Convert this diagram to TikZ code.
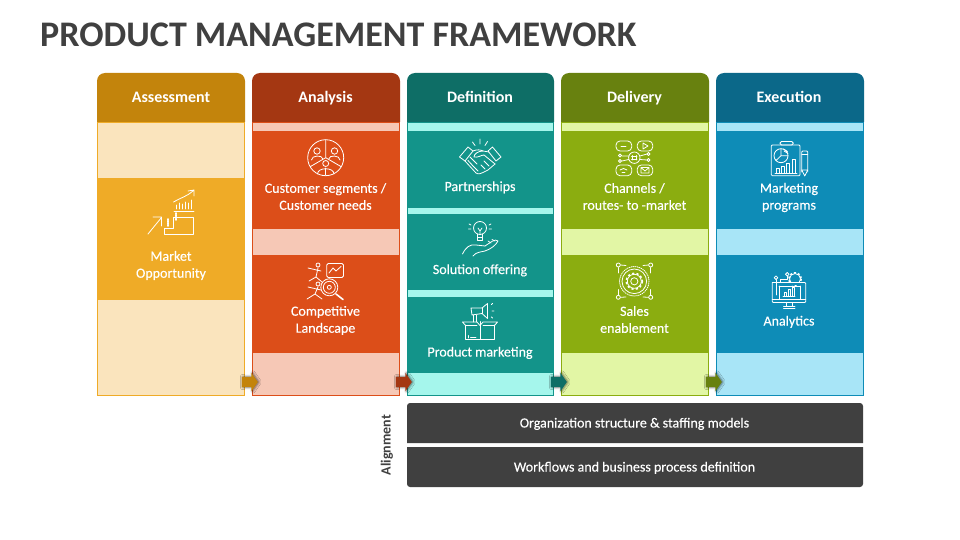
\documentclass[tikz,border=0pt]{standalone}
\usepackage{fontspec}
\usepackage{xcolor}
\usetikzlibrary{shapes.arrows,shadows.blur}
\setmainfont{Carlito}
\newfontfamily\labelfont[FakeBold=0.25]{Carlito}
\definecolor{assesshead}{HTML}{C3840C}
\definecolor{assessdark}{HTML}{EFAB27}
\definecolor{assesslight}{HTML}{FAE4BD}
\definecolor{analyhead}{HTML}{A43712}
\definecolor{analydark}{HTML}{DC4E19}
\definecolor{analylight}{HTML}{F6C8B6}
\definecolor{definhead}{HTML}{0E6E66}
\definecolor{defindark}{HTML}{13948A}
\definecolor{definlight}{HTML}{A5F6EC}
\definecolor{delivhead}{HTML}{68810F}
\definecolor{delivdark}{HTML}{8BAD10}
\definecolor{delivlight}{HTML}{E2F6A5}
\definecolor{execuhead}{HTML}{0B6889}
\definecolor{execudark}{HTML}{0E8CB7}
\definecolor{execulight}{HTML}{A8E5F7}
\definecolor{alignbar}{HTML}{404040}
\tikzset{
    headtext/.style={text=white,font=\fontsize{16}{18}\selectfont\bfseries,inner sep=0pt,text height=11pt,text depth=3pt},
    celltext/.style={text=white,font=\labelfont\fontsize{14}{17}\selectfont,align=center,inner sep=0pt},
    celline/.style={celltext,text height=10pt,text depth=3pt},
    bartext/.style={text=white,font=\labelfont\fontsize{14}{16}\selectfont,inner sep=0pt,text height=10pt,text depth=3pt},
    iconline/.style={draw=white,line width=0.8pt,line cap=round,line join=round},
    flowarrow/.style={single arrow,minimum height=16pt,single arrow head extend=4pt,
        single arrow tip angle=110,inner xsep=0pt,inner ysep=5pt,
        blur shadow={shadow xshift=1pt,shadow yshift=0pt,shadow blur radius=2.5pt,shadow opacity=60}}
}
\begin{document}
\begin{tikzpicture}[x=1pt,y=-1pt]
    \useasboundingbox (0,0) rectangle (960,540);
    \node[text=alignbar,anchor=west,inner sep=0pt,font=\fontsize{36}{40}\selectfont\bfseries] (title) at (40,35) {PRODUCT MANAGEMENT FRAMEWORK};

    \fill[assesslight] (97.5,122) rectangle (244.5,395.5);
    \draw[assessdark,line width=0.8pt] (97.5,122) rectangle (244.5,395.5);
    \fill[assessdark] (97,178) rectangle (245,300);
    \fill[assesshead] (97,122) [rounded corners=8pt] -- (97,73) -- (245,73) [sharp corners] -- (245,122) -- cycle;
    \node[headtext] (assessment) at (171,99) {Assessment};
    \node[celltext] (market) at (171,265.5) {Market\\Opportunity};

    \fill[analylight] (252.5,122) rectangle (399.5,395.5);
    \draw[analydark,line width=0.8pt] (252.5,122) rectangle (399.5,395.5);
    \fill[analydark] (252,131) rectangle (400,229);
    \fill[analydark] (252,255) rectangle (400,353);
    \fill[analyhead] (252,122) [rounded corners=8pt] -- (252,73) -- (400,73) [sharp corners] -- (400,122) -- cycle;
    \node[headtext] (analysis) at (325.5,99) {Analysis};
    \node[celltext] (customer) at (325.5,196.5) {Customer segments /\\Customer needs};
    \node[celltext] (competitive) at (325.5,320.5) {Competitive\\Landscape};

    \fill[definlight] (407.5,122) rectangle (553.5,395.5);
    \draw[defindark,line width=0.8pt] (407.5,122) rectangle (553.5,395.5);
    \fill[defindark] (407,131) rectangle (554,208);
    \fill[defindark] (407,214) rectangle (554,290);
    \fill[defindark] (407,297) rectangle (554,373);
    \fill[definhead] (407,122) [rounded corners=8pt] -- (407,73) -- (554,73) [sharp corners] -- (554,122) -- cycle;
    \node[headtext] (definition) at (480,99) {Definition};
    \node[celline] (partnerships) at (480,187.5) {Partnerships};
    \node[celline] (solution) at (480,270.5) {Solution offering};
    \node[celline] (product) at (480,353) {Product marketing};

    \fill[delivlight] (561.5,122) rectangle (708.5,395.5);
    \draw[delivdark,line width=0.8pt] (561.5,122) rectangle (708.5,395.5);
    \fill[delivdark] (561,131) rectangle (709,229);
    \fill[delivdark] (561,255) rectangle (709,353);
    \fill[delivhead] (561,122) [rounded corners=8pt] -- (561,73) -- (709,73) [sharp corners] -- (709,122) -- cycle;
    \node[headtext] (delivery) at (634.5,99) {Delivery};
    \node[celltext] (channels) at (634.5,196.5) {Channels /\\routes- to -market};
    \node[celltext] (sales) at (634.5,319.5) {Sales\\enablement};

    \fill[execulight] (716.5,122) rectangle (863.5,395.5);
    \draw[execudark,line width=0.8pt] (716.5,122) rectangle (863.5,395.5);
    \fill[execudark] (716,131) rectangle (864,229);
    \fill[execudark] (716,255) rectangle (864,353);
    \fill[execuhead] (716,122) [rounded corners=8pt] -- (716,73) -- (864,73) [sharp corners] -- (864,122) -- cycle;
    \node[headtext] (execution) at (789,99) {Execution};
    \node[celltext] (programs) at (789,197.5) {Marketing\\programs};
    \node[celline] (analytics) at (789,322) {Analytics};

    \node[flowarrow,fill=assesshead] (flowa) at (248,382) {};
    \node[flowarrow,fill=analyhead] (flowb) at (402,382) {};
    \node[flowarrow,fill=definhead] (flowc) at (557,382) {};
    \node[flowarrow,fill=delivhead] (flowd) at (712,382) {};

    \fill[alignbar] (407,443) [rounded corners=3pt] -- (407,403) -- (863,403) [sharp corners] -- (863,443) -- cycle;
    \fill[alignbar] (407,447) [rounded corners=3pt] -- (407,487) -- (863,487) [sharp corners] -- (863,447) -- cycle;
    \node[bartext] (staffing) at (634.5,424) {Organization structure \& staffing models};
    \node[bartext] (workflows) at (634.5,468) {Workflows and business process definition};
    \node[text=alignbar,rotate=90,inner sep=0pt,font=\fontsize{14}{15}\selectfont\bfseries] (alignment) at (387,445) {Alignment};

    \draw[iconline] (164,234.5) -- (164,228) -- (173,228) -- (173,217) -- (193.5,217) -- (193.5,234.5) -- cycle;
    \draw[iconline] (148,234) -- (161.5,217.5) (153,217) -- (161.5,217) -- (161.5,226);
    \draw[iconline] (173.5,202) .. controls (180,198) and (188,196) .. (193.5,190.5) (188,191) -- (194,190) -- (194,196);
    \draw[iconline] (174,211) -- (194,211);
    \draw[iconline] (176,209) -- (176,205) (179,209) -- (179,203) (182,209) -- (182,204) (185,209) -- (185,202) (188,209) -- (188,203) (191,209) -- (191,200);
    \draw[iconline,line width=1.6pt,dash pattern=on 1.2pt off 0.8pt] (168,219) -- (168,226);
    \draw[iconline,line width=1.6pt,dash pattern=on 1.2pt off 0.8pt] (176,213) -- (176,220);

    \draw[iconline] (325.7,157.7) circle (18);
    \draw[iconline] (325.7,157.7) -- (325.7,139.7) (325.7,157.7) -- (310.2,166.7) (325.7,157.7) -- (341.2,166.7);
    \draw[iconline] (317,151) circle (3.2) (334.5,151) circle (3.2) (325.7,163.5) circle (3);
    \draw[iconline] (311.5,160) .. controls (311.5,155) and (322.5,155) .. (322.5,158.5);
    \draw[iconline] (329,158.5) .. controls (329,155) and (340,155) .. (340,160);
    \draw[iconline] (317.5,174) .. controls (317.5,167) and (334,167) .. (334,174);
    \draw[iconline] (325.7,168) -- (325.7,175);

    \draw[iconline,rounded corners=1.5pt] (326.7,263.5) rectangle (343.5,277.5);
    \draw[iconline] (329,273) -- (333,268) -- (336,271) -- (341,266.5);
    \fill[analydark] (329.3,287.3) circle (8.5);
    \draw[iconline] (329.3,287.3) circle (8.5) (329.3,287.3) circle (6);
    \draw[iconline] (329.3,287.3) circle (2);
    \draw[iconline,line width=1.6pt] (336,294) -- (343,299.5);
    \draw[iconline] (318,265) circle (2) (318,268) -- (316,277) -- (309,281) (308,268) -- (321,271) (316,277) -- (322,282);
    \draw[iconline] (318,284) circle (2) (318,287) -- (315,294) -- (307,299) (308,287) -- (321,290) (315,294) -- (322,299);

    \draw[iconline] (480,139) -- (480,144) (472.5,142) -- (475,145.5) (487.5,141.5) -- (485,145.5);
    \draw[iconline] (459.5,157) -- (468,147) -- (473,151) -- (465,161) -- cycle;
    \draw[iconline] (501,157) -- (492.5,147) -- (488,151) -- (496,161) -- cycle;
    \draw[iconline] (473,151) .. controls (477,149) and (481,150) .. (483,151) -- (489,152);
    \draw[iconline] (483,151) .. controls (478,151) and (474,154) .. (474,157) .. controls (478,158) and (481,155) .. (484,155) -- (495,164);
    \draw[iconline] (465,161) -- (476,173) .. controls (479,175) and (481,173) .. (483,172.5) -- (488,170) -- (495,164);
    \draw[iconline] (470,157) -- (477,164) (468,160.5) -- (474,167) (472,165) -- (478,171) (484,161) -- (489,166) (481,165) -- (485,169);

    \draw[iconline] (480,228) circle (6.5);
    \draw[iconline] (477.5,234) -- (477.5,240) -- (482.5,240) -- (482.5,234) (477.5,237) -- (482.5,237);
    \draw[iconline] (478,228) -- (480,231) -- (482,228) (480,231) -- (480,234);
    \draw[iconline] (469,224) -- (471,225) (468.5,229) -- (471,229) (491,224) -- (489,225) (491.5,229) -- (489,229);
    \draw[iconline] (462.5,254) .. controls (466,247) and (470,244) .. (476,245) -- (485,246);
    \draw[iconline] (473,256) .. controls (476,252) and (481,252) .. (485,251) .. controls (491,249) and (496,245) .. (498,241) .. controls (495,238) and (490,243) .. (485,246);
    \draw[iconline] (488,241) -- (491,243) (492,239.5) -- (495,241);

    \draw[iconline] (465.5,325) -- (465.5,339.5) -- (494.5,339.5) -- (494.5,325);
    \draw[iconline] (480,321.5) -- (480,339.5);
    \draw[iconline] (462.5,322) -- (477,322) -- (480,325.5) -- (483,322) -- (497.5,322) -- (494.5,325.5) -- (483,325.5) (462.5,322) -- (465.5,325.5) -- (477,325.5);
    \draw[iconline] (468,335.5) -- (468,338) (470.5,337.5) -- (476,337.5);
    \draw[iconline] (471,308) -- (482,308) -- (487.5,303.5) -- (487.5,318.5) -- (482,313.5) -- (472,315) -- cycle;
    \draw[iconline] (482,308) -- (482,313.5) (473,315) -- (473,322) (476,315) -- (476,322);
    \draw[iconline] (491.5,304.5) -- (492.5,303.5) (492,311) -- (494,311) (491.5,317) -- (492.5,318);

    \draw[iconline] (634.3,157.7) circle (5.7);
    \draw[iconline] (632.5,155.5) -- (632.5,160) (636,155.5) -- (636,160) (631.5,156.5) -- (637,156.5) (631.5,159) -- (637,159);
    \draw[iconline,rounded corners=4pt] (616,141) rectangle (631.7,151);
    \draw[iconline,rounded corners=4pt] (637.3,141) rectangle (652.7,151);
    \draw[iconline,rounded corners=4pt] (616,165) rectangle (631.7,175.7);
    \draw[iconline,rounded corners=4pt] (637.3,165) rectangle (652.7,175.7);
    \draw[iconline] (621,146) -- (626,146);
    \draw[iconline] (643,143) -- (643,149) -- (648,146) -- cycle;
    \draw[iconline] (622,172.5) -- (625,172.5) (620,170) .. controls (622,168) and (625,168) .. (627,170);
    \draw[iconline] (641,167.5) rectangle (649,173) (641,167.5) -- (645,171) -- (649,167.5);
    \draw[iconline] (628.7,156) -- (622,156) (628.7,159.5) -- (622,161) (639.9,156) -- (647,154) (639.9,159.5) -- (647,160);
    \draw[iconline] (620,155.5) circle (1.5) (620,161) circle (1.5) (648.5,154) circle (1.5) (648.5,160) circle (1.5);

    \draw[iconline] (634.3,281.3) circle (12.3);
    \draw[iconline,line width=0.9pt,dash pattern=on 0.8pt off 1.2pt] (634.3,281.3) circle (14.7);
    \draw[iconline] (634.3,281.3) circle (7) (634.3,281.3) circle (3.6);
    \draw[iconline,line width=1.6pt,line cap=butt,dash pattern=on 2.2pt off 2.2pt] (634.3,281.3) circle (8);
    \draw[iconline] (618.3,265) circle (2) (650.7,265) circle (2) (618.3,297.3) circle (2) (650.7,297.3) circle (2);
    \draw[iconline] (620.5,265) -- (626,265.5) (648.5,265) -- (643,265.5) (620.5,297.3) -- (626,297) (648.5,297.3) -- (643,297);
    \draw[iconline] (618.3,267.5) -- (618.3,273) (650.7,267.5) -- (650.7,273) (618.3,294.8) -- (618.3,289.5) (650.7,294.8) -- (650.7,289.5);

    \draw[iconline,rounded corners=1pt] (771.3,145) rectangle (800,175.7);
    \draw[iconline,rounded corners=1.5pt] (780,145) -- (780,141.5) -- (793.3,141.5) -- (793.3,145) -- cycle;
    \draw[iconline] (781,155.7) circle (7);
    \draw[iconline] (781,155.7) -- (781,148.7) (781,155.7) -- (788,155.7) (781,155.7) -- (776,160.5);
    \draw[iconline] (784,151) -- (788,153.5) (783.5,149) -- (787.5,151.5);
    \draw[iconline] (775,173.5) -- (797,173.5);
    \draw[iconline] (776.5,173.5) rectangle (779,168) (781.5,173.5) rectangle (784,166) (786.5,173.5) rectangle (789,163) (792,173.5) rectangle (795.5,159);
    \draw[iconline,rounded corners=1pt] (801.7,172) -- (801.7,151) -- (807.7,151) -- (807.7,172);
    \draw[iconline] (801.7,170) -- (804.7,176) -- (807.7,170) -- cycle;
    \draw[iconline] (801.7,154) -- (807.7,154);

    \draw[iconline,line width=1.5pt,line cap=butt,dash pattern=on 2pt off 2pt] (795,279) circle (6.2);
    \draw[iconline] (795,279) circle (5.5);
    \fill[execudark] (788,282.9) rectangle (803.5,285.4);
    \draw[iconline,rounded corners=1pt] (772.3,282.5) -- (772.3,302.5) -- (805.7,302.5) -- (805.7,282.5) -- (772.3,282.5);
    \draw[iconline] (772.3,299) -- (805.7,299);
    \draw[iconline] (786,302.5) -- (786,306) (792,302.5) -- (792,306) (783.5,308) -- (795,308) (783.5,306) -- (795,306);
    \draw[iconline] (779,286) -- (800,286) (779,286) -- (779,299) (800,286) -- (800,299);
    \draw[iconline] (783,296.5) -- (795,296.5);
    \draw[iconline] (784,296.5) rectangle (786,292.5) (788,296.5) rectangle (790,289.5) (792,296.5) rectangle (794.5,287.5);
    \draw[iconline] (776,277.7) circle (1.8) (787.3,274.3) circle (1.8);
    \draw[iconline] (776,279.5) -- (776,295) (787.3,276) -- (787.3,279) -- (780,279) -- (780,282.5);
\end{tikzpicture}
\end{document}
